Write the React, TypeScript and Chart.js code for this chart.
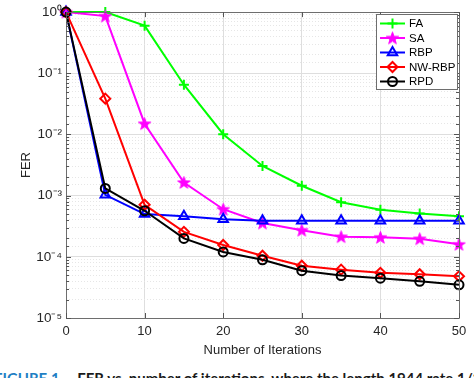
import React, { useEffect, useRef } from 'react';
import { Chart, registerables } from 'chart.js';
import { drawPoint } from 'chart.js/helpers';

Chart.register(...registerables);

// ---- data ----
const iterations = [0, 5, 10, 15, 20, 25, 30, 35, 40, 45, 50];
const ferFA = [1, 1, 0.6, 0.065, 0.0101, 0.00305, 0.00145, 0.00078, 0.00059, 0.00051, 0.00046];
const ferSA = [1, 0.86, 0.015, 0.00164, 0.0006, 0.000357, 0.000272, 0.000213, 0.000208, 0.000197, 0.00016];
const ferRBP = [1, 0.00103, 0.0005, 0.00046, 0.00041, 0.00039, 0.00039, 0.00039, 0.00039, 0.00039, 0.00039];
const ferNWRBP = [1, 0.0385, 0.00071, 0.000256, 0.000156, 0.000104, 0.0000716, 0.0000617, 0.0000548, 0.0000519, 0.000048];
const ferRPD = [1, 0.00131, 0.000566, 0.0002, 0.00012, 0.0000895, 0.0000594, 0.0000494, 0.0000447, 0.0000398, 0.0000349];

const seriesNames = ['FA', 'SA', 'RBP', 'NW-RBP', 'RPD'];
const seriesValues = [ferFA, ferSA, ferRBP, ferNWRBP, ferRPD];
const seriesColors = ['#00ff00', '#ff00ff', '#0000ff', '#ff0000', '#000000'];

const xTickStep = 10;
const xMin = 0;
const xMax = 50;
const yMin = 1e-5;
const yMax = 1;
const xTitle = 'Number of Iterations';
const yTitle = 'FER';
const captionLabel = 'FIGURE 1.';
const captionText = 'FER vs. number of iterations, where the length 1944 rate 1/2 LDPC code is considered.';

const FONT = '"Liberation Sans", Arial, Helvetica, sans-serif';

const SUP: Record<string, string> = {
  '-': '\u207B', '0': '\u2070', '1': '\u00B9', '2': '\u00B2', '3': '\u00B3',
  '4': '\u2074', '5': '\u2075', '6': '\u2076', '7': '\u2077', '8': '\u2078', '9': '\u2079',
};
const isDecade = (v: number) => {
  const l = Math.log10(v);
  return Math.abs(l - Math.round(l)) < 1e-6;
};
const decadeLabel = (v: number) => {
  const e = String(Math.round(Math.log10(v)));
  return '10' + e.split('').map((c) => SUP[c] || c).join('');
};

function makeStar(color: string, r: number): HTMLCanvasElement {
  const size = Math.ceil(r * 2 + 2);
  const c = document.createElement('canvas');
  c.width = size;
  c.height = size;
  const ctx = c.getContext('2d')!;
  const cx = size / 2;
  const cy = size / 2 + r * 0.08;
  const inner = r * 0.4;
  ctx.beginPath();
  for (let i = 0; i < 10; i++) {
    const rad = i % 2 === 0 ? r : inner;
    const a = -Math.PI / 2 + (i * Math.PI) / 5;
    const px = cx + rad * Math.cos(a);
    const py = cy + rad * Math.sin(a);
    if (i === 0) ctx.moveTo(px, py);
    else ctx.lineTo(px, py);
  }
  ctx.closePath();
  ctx.fillStyle = color;
  ctx.fill();
  ctx.strokeStyle = color;
  ctx.lineWidth = 1;
  ctx.stroke();
  return c;
}

export default function App() {
  const canvasRef = useRef<HTMLCanvasElement | null>(null);

  useEffect(() => {
    if (!canvasRef.current) return;
    const star = makeStar('#ff00ff', 6.5);
    const styles: any[] = [
      { pointStyle: 'cross', pointRadius: 5 },
      { pointStyle: star, pointRadius: 6 },
      { pointStyle: 'triangle', pointRadius: 5.5 },
      { pointStyle: 'rectRot', pointRadius: 5 },
      { pointStyle: 'circle', pointRadius: 4.5 },
    ];

    const datasets = seriesNames.map((name, i) => ({
      label: name,
      data: iterations.map((x, j) => ({ x, y: seriesValues[i][j] })),
      borderColor: seriesColors[i],
      backgroundColor: 'rgba(0,0,0,0)',
      pointBorderColor: seriesColors[i],
      pointBackgroundColor: 'rgba(0,0,0,0)',
      borderWidth: 2,
      pointBorderWidth: 2,
      pointStyle: styles[i].pointStyle,
      pointRadius: styles[i].pointRadius,
      tension: 0,
      fill: false,
      clip: 10,
      order: seriesNames.length - i,
    }));

    const boxPlugin = {
      id: 'matlabBox',
      afterDatasetsDraw(chart: any) {
        const { ctx, chartArea } = chart;
        const { left, right, top, bottom } = chartArea;
        const xs = chart.scales.x;
        const ys = chart.scales.y;
        ctx.save();
        ctx.strokeStyle = '#6e6e6e';
        ctx.lineWidth = 1;
        ctx.beginPath();
        ctx.rect(Math.round(left) + 0.5, Math.round(top) + 0.5, Math.round(right - left), Math.round(bottom - top));
        ctx.stroke();
        ctx.strokeStyle = '#555555';
        ctx.beginPath();
        xs.ticks.forEach((t: any) => {
          const px = Math.round(xs.getPixelForValue(t.value)) + 0.5;
          ctx.moveTo(px, bottom);
          ctx.lineTo(px, bottom - 5);
          ctx.moveTo(px, top);
          ctx.lineTo(px, top + 5);
        });
        ys.ticks.forEach((t: any) => {
          const py = Math.round(ys.getPixelForValue(t.value)) + 0.5;
          const len = isDecade(t.value) ? 5 : 3;
          ctx.moveTo(left, py);
          ctx.lineTo(left + len, py);
          ctx.moveTo(right, py);
          ctx.lineTo(right - len, py);
        });
        ctx.stroke();
        ctx.restore();
      },
      afterDraw(chart: any) {
        const { ctx, chartArea } = chart;
        const bw = 81;
        const bh = 75;
        const bx = Math.round(chartArea.right - 2 - bw);
        const by = Math.round(chartArea.top + 2);
        ctx.save();
        ctx.fillStyle = '#ffffff';
        ctx.fillRect(bx, by, bw, bh);
        ctx.strokeStyle = '#6e6e6e';
        ctx.lineWidth = 1;
        ctx.strokeRect(bx + 0.5, by + 0.5, bw, bh);
        const rowH = 14.5;
        chart.data.datasets.forEach((ds: any, i: number) => {
          const cy = by + 9.5 + i * rowH;
          const x0 = bx + 4;
          const x1 = bx + 29;
          ctx.strokeStyle = ds.borderColor;
          ctx.lineWidth = 2;
          ctx.beginPath();
          ctx.moveTo(x0, cy);
          ctx.lineTo(x1, cy);
          ctx.stroke();
          ctx.fillStyle = 'rgba(0,0,0,0)';
          drawPoint(ctx, {
            pointStyle: ds.pointStyle,
            radius: ds.pointRadius,
            rotation: 0,
            borderWidth: 2,
          } as any, (x0 + x1) / 2, cy);
          ctx.fillStyle = '#000000';
          ctx.font = `11.5px ${FONT}`;
          ctx.textBaseline = 'middle';
          ctx.textAlign = 'left';
          ctx.fillText(ds.label, bx + 33, cy + 0.5);
        });
        ctx.restore();
      },
    };

    const chart = new Chart(canvasRef.current, {
      type: 'line',
      data: { datasets: datasets as any },
      options: {
        animation: false,
        responsive: false,
        maintainAspectRatio: false,
        layout: { padding: { left: 0, right: 15, top: 8, bottom: 0 } },
        plugins: {
          legend: { display: false },
          tooltip: { enabled: false },
          title: { display: false },
        },
        scales: {
          x: {
            type: 'linear',
            min: xMin,
            max: xMax,
            ticks: {
              stepSize: xTickStep,
              color: '#262626',
              font: { family: FONT, size: 13 },
              padding: 6,
              maxRotation: 0,
            },
            grid: { color: '#dedede', lineWidth: 1, drawTicks: false },
            border: { display: false },
            title: {
              display: true,
              text: xTitle,
              color: '#262626',
              font: { family: FONT, size: 13 },
              padding: { top: 0, bottom: 4 },
            },
            afterFit(scale: any) {
              scale.height = 44;
            },
          },
          y: {
            type: 'logarithmic',
            min: yMin,
            max: yMax,
            ticks: {
              autoSkip: false,
              color: '#262626',
              font: { family: FONT, size: 13.5 },
              padding: 4,
              callback: (v: any) => (isDecade(Number(v)) ? decadeLabel(Number(v)) : ''),
            },
            grid: {
              drawTicks: false,
              lineWidth: 1,
              color: (ctx: any) => (ctx.tick && isDecade(ctx.tick.value) ? '#dedede' : '#e6e6e6'),
            },
            border: {
              display: false,
              dash: (ctx: any) => (ctx.tick && isDecade(ctx.tick.value) ? [] : [1, 2]),
            } as any,
            title: {
              display: true,
              text: yTitle,
              color: '#262626',
              font: { family: FONT, size: 13 },
              padding: { top: 19, bottom: 0 },
            },
            afterFit(scale: any) {
              scale.width = 66;
            },
          },
        },
      },
      plugins: [boxPlugin],
    });
    return () => chart.destroy();
  }, []);

  return (
    <div
      style={{
        position: 'absolute',
        left: 0,
        top: 0,
        width: 474,
        height: 378,
        overflow: 'hidden',
        background: '#ffffff',
      }}
    >
      <canvas ref={canvasRef} width={474} height={362} style={{ display: 'block', width: 474, height: 362 }} />
      <div
        style={{
          position: 'absolute',
          left: -6,
          top: 369,
          whiteSpace: 'nowrap',
          fontFamily: 'Lato, "Open Sans", sans-serif',
          fontWeight: 700,
          fontSize: 15,
          lineHeight: '18px',
          color: '#1a1a1a',
        }}
      >
        <span style={{ color: '#1f7fc4', marginRight: 14 }}>{captionLabel}</span>
        <span>{captionText}</span>
      </div>
    </div>
  );
}
